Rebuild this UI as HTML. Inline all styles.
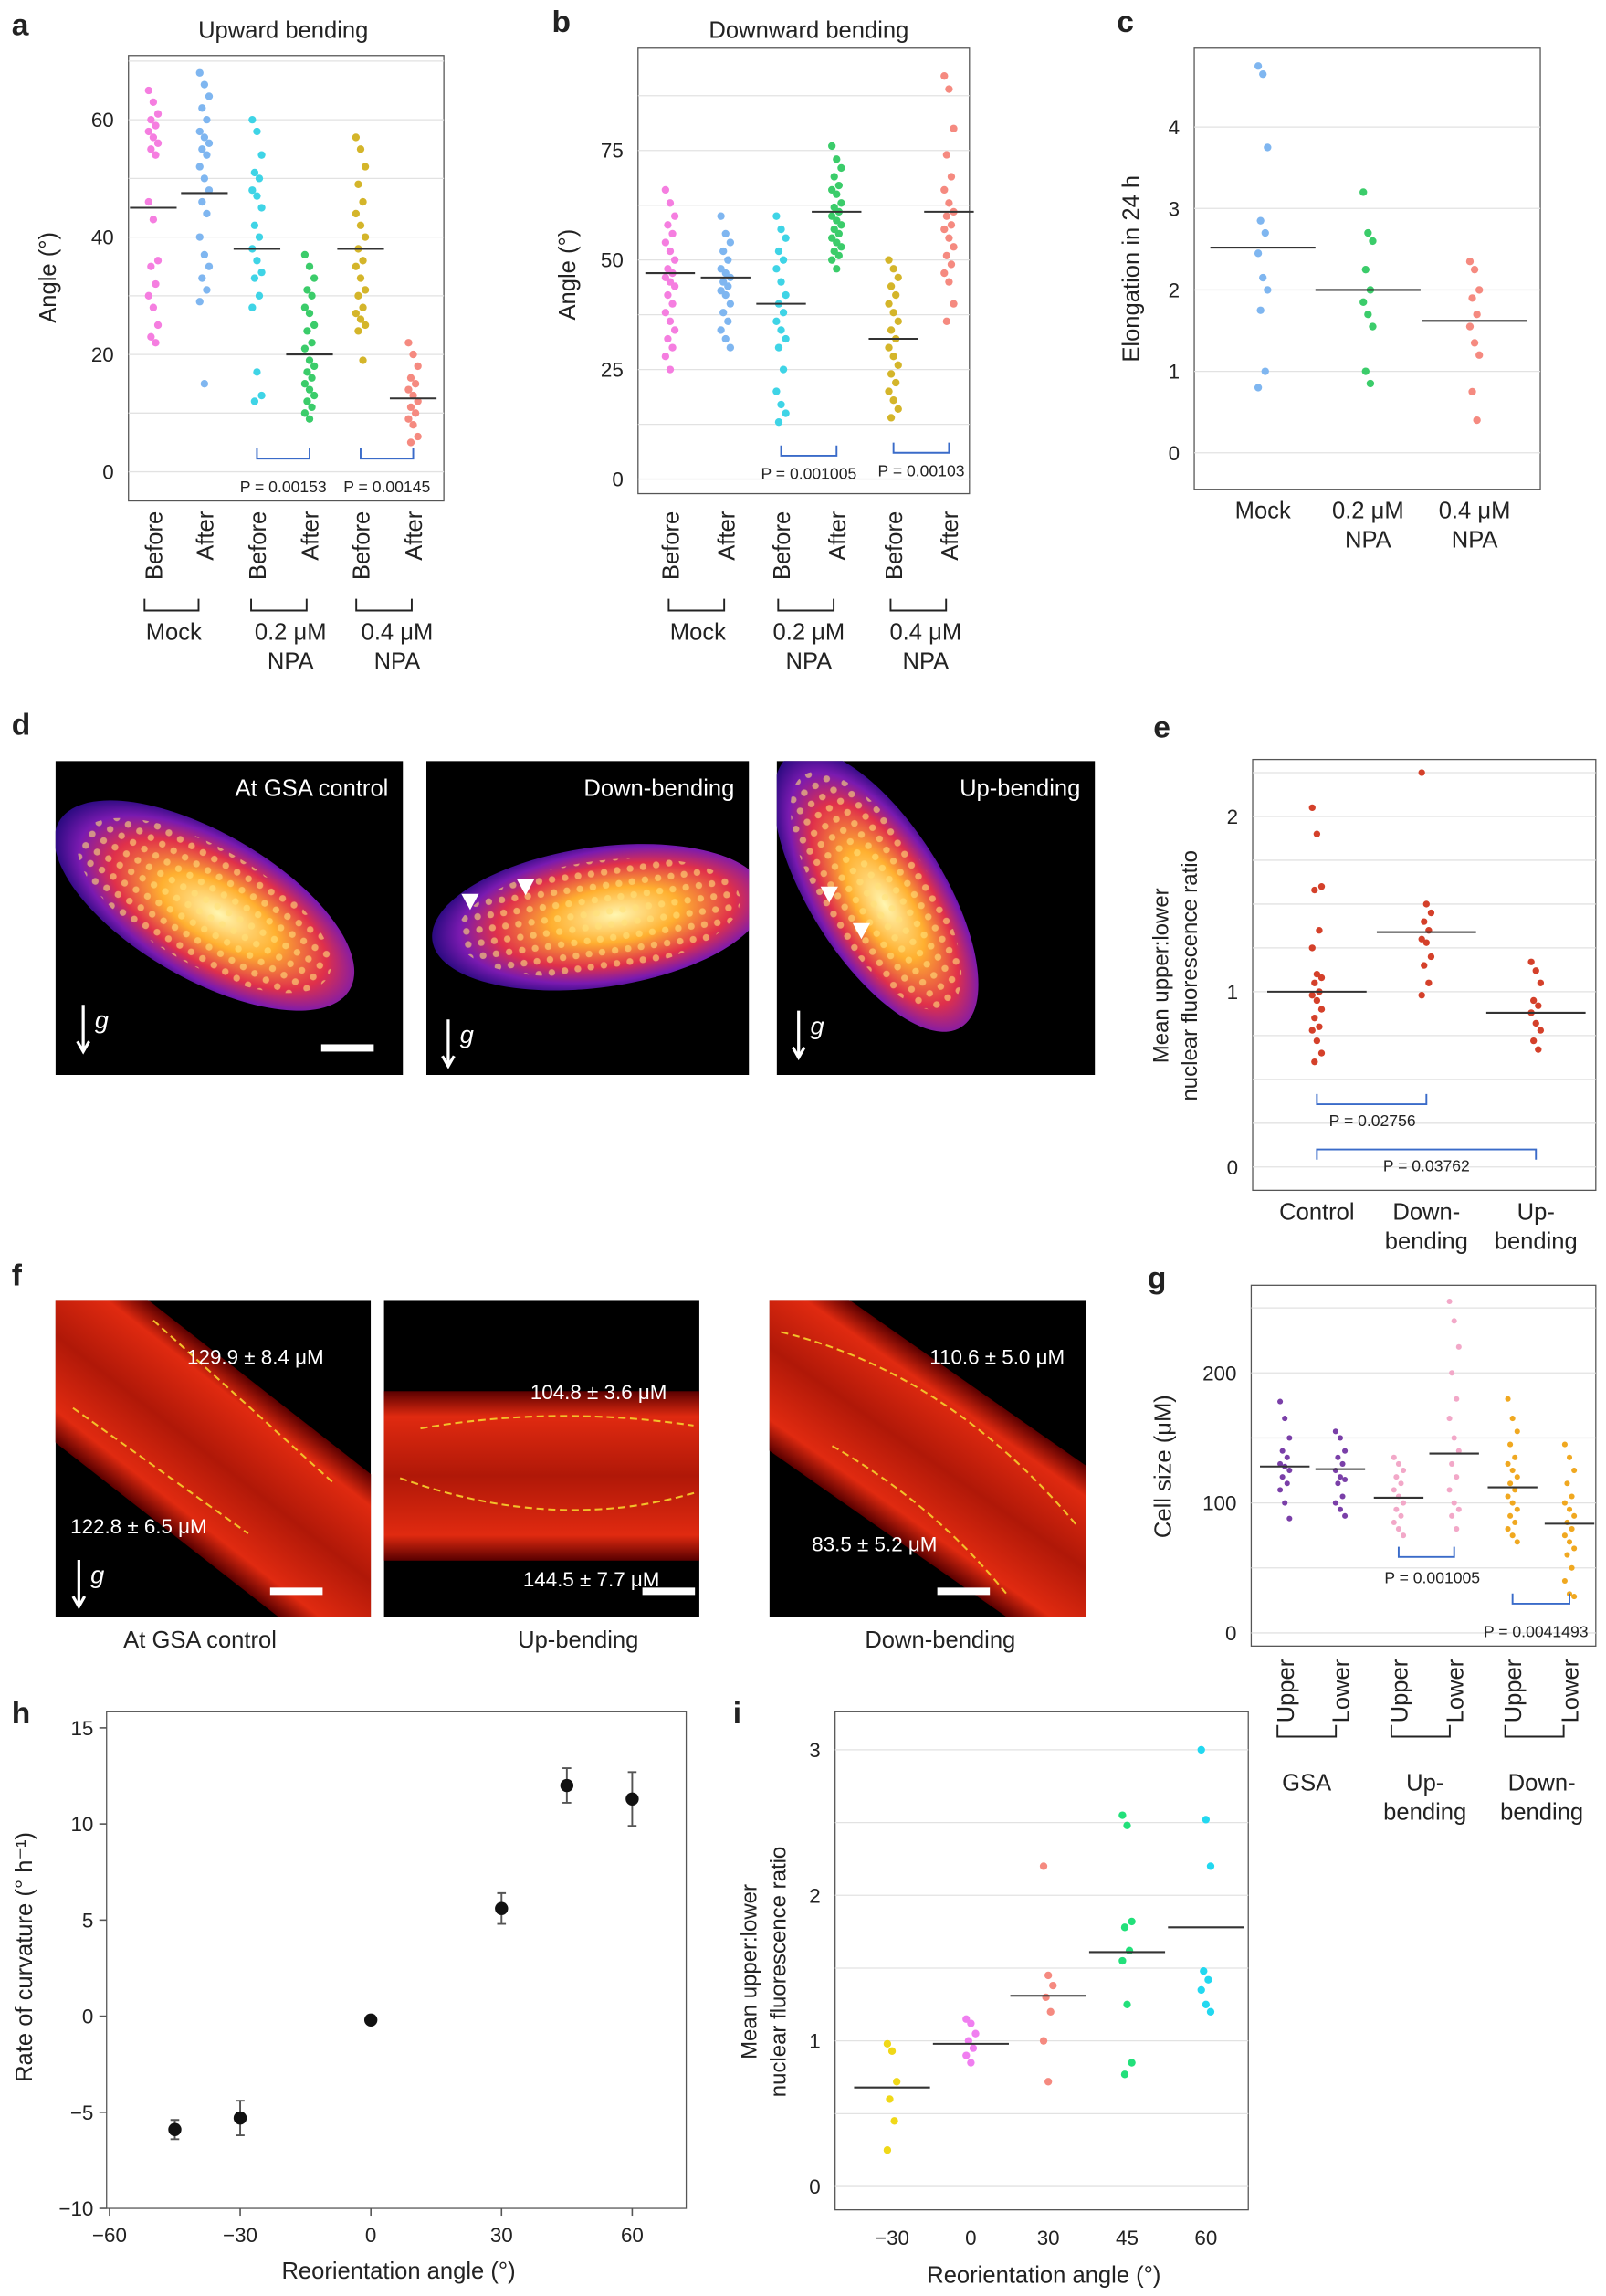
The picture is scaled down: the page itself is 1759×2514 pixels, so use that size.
<!DOCTYPE html>
<html><head><meta charset="utf-8"><style>
html,body{margin:0;padding:0;background:#fff}
svg{display:block}
text{font-family:"Liberation Sans",sans-serif;fill:#222}
</style></head><body>
<svg id="fig" width="1759" height="2514" viewBox="0 0 1100 1572" preserveAspectRatio="none" xmlns="http://www.w3.org/2000/svg">
<defs>
<radialGradient id="heat" cx="55%" cy="50%" r="55%">
<stop offset="0" stop-color="#fff6b0"/><stop offset="0.35" stop-color="#ffb030"/><stop offset="0.65" stop-color="#e0304a"/><stop offset="0.85" stop-color="#7a1ab0"/><stop offset="1" stop-color="#2a0a80"/>
</radialGradient>
<pattern id="nuc" width="9" height="9" patternUnits="userSpaceOnUse"><circle cx="4" cy="4" r="2.3" fill="#ffe27a" opacity="0.85"/></pattern>
<linearGradient id="redband" x1="0" y1="0" x2="0" y2="1">
<stop offset="0" stop-color="#5a0000"/><stop offset="0.15" stop-color="#e02a10"/><stop offset="0.5" stop-color="#b01808"/><stop offset="0.85" stop-color="#e02a10"/><stop offset="1" stop-color="#5a0000"/>
</linearGradient>
</defs>
</svg>
<script>
// ---------- data ----------
const aCats=["Before Mock","After Mock","Before 0.2","After 0.2","Before 0.4","After 0.4"];
const aMock0=[65,63,61,60,59,58,57,56,55,54,46,43,36,35,32,30,28,25,23,22];
const aMock1=[68,66,64,62,60,58,57,56,55,54,52,50,48,46,44,40,37,35,33,31,29,15];
const aN20=[60,58,54,51,50,48,47,45,42,40,38,36,34,33,30,28,17,13,12];
const aN21=[37,35,33,31,30,28,27,25,24,22,21,19,18,17,16,15,14,13,12,11,10,9];
const aN40=[57,55,52,49,46,44,42,40,38,36,35,33,31,30,28,27,26,25,24,19];
const aN41=[22,20,18,16,15,14,13,12,11,10,9,8,6,5];
const aMeans=[45,47.5,38,20,38,12.5];
const aTicks=[0,20,40,60];
const bMock0=[66,63,60,58,56,54,52,50,48,47,46,45,44,42,40,38,36,34,32,30,28,25];
const bMock1=[60,56,54,52,50,48,47,46,45,44,43,42,40,38,36,34,32,30];
const bN20=[60,57,55,52,50,48,45,42,40,38,36,34,32,30,25,20,17,15,13];
const bN21=[76,73,71,69,67,66,65,63,62,61,60,59,58,57,56,55,54,53,52,51,50,48];
const bN40=[50,48,46,44,42,40,38,36,34,32,30,28,26,24,22,20,18,16,14];
const bN41=[92,89,80,74,69,66,63,61,60,58,57,55,53,51,49,47,45,40,36];
const bMeans=[47,46,40,61,32,61];
const bTicks=[0,25,50,75];
const cCats=["Mock","0.2 μM|NPA","0.4 μM|NPA"];
const cMock=[4.75,4.65,3.75,2.85,2.7,2.45,2.15,2.0,1.75,1.0,0.8];
const cN2=[3.2,2.7,2.6,2.25,2.0,1.85,1.7,1.55,1.0,0.85];
const cN4=[2.35,2.25,2.0,1.9,1.7,1.55,1.35,1.2,0.75,0.4];
const cMeans=[2.52,2.0,1.62];
const cTicks=[0,1,2,3,4];
const eCats=["Control","Down-|bending","Up-|bending"];
const eCtrl=[2.05,1.9,1.6,1.58,1.35,1.25,1.1,1.08,1.05,1.0,0.98,0.95,0.9,0.85,0.8,0.78,0.72,0.65,0.6];
const eDown=[2.25,1.5,1.45,1.4,1.35,1.3,1.28,1.2,1.15,1.05,0.98];
const eUp=[1.17,1.12,1.05,0.95,0.92,0.88,0.82,0.78,0.72,0.67];
const eMeans=[1.0,1.34,0.88];
const eTicks=[0,1,2];
const gGsaU=[178,165,150,140,135,130,128,125,120,115,110,100,88];
const gGsaL=[155,150,140,135,130,125,120,118,115,105,100,95,90];
const gUpU=[135,130,125,120,115,110,105,100,95,90,85,80,75];
const gUpL=[255,240,220,200,180,165,150,140,130,120,110,100,95,90,80];
const gDnU=[180,165,155,145,135,130,125,120,115,110,105,100,95,90,85,80,75,70];
const gDnL=[145,135,125,115,105,100,95,90,85,80,75,70,65,60,50,40,30,28];
const gMeans=[128,126,104,138,112,84];
const gTicks=[0,100,200];
const hX=[-45,-30,0,30,45,60];
const hY=[-5.9,-5.3,-0.2,5.6,12.0,11.3];
const hErr=[0.5,0.9,0.15,0.8,0.9,1.4];
const hXTicks=[-60,-30,0,30,60];
const hYTicks=[-10,-5,0,5,10,15];
const iCats=["-30","0","30","45","60"];
const iM30=[0.98,0.93,0.72,0.6,0.45,0.25];
const i0=[1.15,1.12,1.05,1.0,0.95,0.9,0.85];
const i30=[2.2,1.45,1.38,1.3,1.2,1.0,0.72];
const i45=[2.55,2.48,1.82,1.78,1.62,1.55,1.25,0.85,0.77];
const i60=[3.0,2.52,2.2,1.48,1.42,1.35,1.25,1.2];
const iMeans=[0.68,0.98,1.31,1.61,1.78];
const iTicks=[0,1,2,3];

// ---------- helpers ----------
const NS="http://www.w3.org/2000/svg";
const svg=document.getElementById('fig');
const defs=svg.querySelector('defs');
function mk(tag,attrs,parent){const e=document.createElementNS(NS,tag);for(const k in attrs)e.setAttribute(k,attrs[k]);(parent||svg).appendChild(e);return e;}
function txt(x,y,s,size,anchor,parent,extra){const t=mk('text',Object.assign({x:x,y:y,'font-size':size,'text-anchor':anchor||'middle'},extra||{}),parent);t.textContent=s;return t;}
function lin(d0,d1,r0,r1){return v=>r0+(v-d0)*(r1-r0)/(d1-d0);}

function panel(name,box,yScale,ticks,gridVals,cats,series,colors,means,r,meanW){
  const g=mk('g',{});
  
  
  const bg=mk('rect',{x:box[0],y:box[1],width:box[2]-box[0],height:box[3]-box[1],fill:'#fff',stroke:'#555','stroke-width':0.8},g);
  
  
  gridVals.forEach(v=>{const l=mk('line',{x1:box[0],x2:box[2],y1:yScale(v),y2:yScale(v),stroke:'#e2e2e2','stroke-width':0.8},g);
    
    });
  ticks.forEach(v=>{const t=txt(box[0]-10,yScale(v)+5,String(v),14,'end',g);
    
    });
  series.forEach((arr,si)=>{
    arr.forEach((v,i)=>{const dx=((i*7)%5-2)*1.6;
      const c=mk('circle',{cx:cats[si]+dx,cy:yScale(v),r:r,fill:colors[si]},g);
      
      });
    const m=mk('line',{x1:cats[si]-meanW,x2:cats[si]+meanW,y1:yScale(means[si]),y2:yScale(means[si]),stroke:'#333','stroke-width':1.3},g);
    
    
  });
  return g;
}
function bracket(x1,x2,y,label,lx,ly,up){
  const p=mk('path',{d:up?`M${x1},${y-7}V${y}H${x2}V${y-7}`:`M${x1},${y+7}V${y}H${x2}V${y+7}`,fill:'none',stroke:'#3a6bc9','stroke-width':1.2});
  
  
  const t=txt(lx,ly,label,11,'middle');
  
  
}
function letter(x,y,s){const t=txt(x,y,s,21,'start',null,{'font-weight':'bold'});
  
  }
function vlabel(x,y,s,size){const t=txt(x,y,s,size||16,'end',null,{transform:`rotate(-90 ${x} ${y})`});
  
  }
function ytitle(x,y,lines,size){lines.forEach((s,i)=>{const t=txt(x+i*20,y,s,size||16,'middle',null,{transform:`rotate(-90 ${x+i*20} ${y})`});
  
  });}
function label(x,y,s,size,name){const t=txt(x,y,s,size||16,'middle');
  
  return t;}
function groupBracket(x1,x2,y){const p=mk('path',{d:`M${x1},${y-8}V${y}H${x2}V${y-8}`,fill:'none',stroke:'#222','stroke-width':1.2});
  
  }
function clipRect(id,x,y,w,h){const cp=mk('clipPath',{id:id},defs);mk('rect',{x:x,y:y,width:w,height:h},cp);return `url(#${id})`;}

const six=['#f57ee0','#7fb6f0','#3fd4e6','#3bcc6a','#d4b52a','#f58a80'];
// ---------- panel a ----------
letter(8,24,'a');
label(194,26,'Upward bending',16,'panel-title');
const ay=lin(0,60,323,82);
const aX=[105,140,176,212,247,283];
panel('panel-a-dot-plot',[88,38,304,343],ay,aTicks,[0,10,20,30,40,50,60,70],aX,[aMock0,aMock1,aN20,aN21,aN40,aN41],six,aMeans,2.6,16);
ytitle(38,190,['Angle (°)']);
bracket(176,212,314,'P = 0.00153',194,337,true);
bracket(247,283,314,'P = 0.00145',265,337,true);
aCats.forEach((c,i)=>vlabel(aX[i]+6,350,c.split(' ')[0]));
groupBracket(99,136,418);groupBracket(172,210,418);groupBracket(244,282,418);
label(119,438,'Mock');label(199,438,'0.2 μM');label(199,458,'NPA');label(272,438,'0.4 μM');label(272,458,'NPA');

// ---------- panel b ----------
letter(378,22,'b');
label(554,26,'Downward bending',16,'panel-title');
const by=lin(0,75,328,103);
const bX=[459,497,535,573,612,650];
panel('panel-b-dot-plot',[437,33,664,338],by,bTicks,[0,12.5,25,37.5,50,62.5,75,87.5],bX,[bMock0,bMock1,bN20,bN21,bN40,bN41],six,bMeans,2.6,17);
ytitle(394,188,['Angle (°)']);
bracket(535,573,312,'P = 0.001005',554,328,true);
bracket(612,650,310,'P = 0.00103',631,326,true);
aCats.forEach((c,i)=>vlabel(bX[i]+6,350,c.split(' ')[0]));
groupBracket(458,496,418);groupBracket(533,571,418);groupBracket(610,648,418);
label(478,438,'Mock');label(554,438,'0.2 μM');label(554,458,'NPA');label(634,438,'0.4 μM');label(634,458,'NPA');

// ---------- panel c ----------
letter(765,22,'c');
const cy=lin(0,4,310,87);
const cX=[865,937,1010];
panel('panel-c-dot-plot',[818,33,1055,335],cy,cTicks,[0,1,2,3,4],cX,[cMock,cN2,cN4],['#7fb6f0','#3bcc6a','#f58a80'],cMeans,2.6,36);
ytitle(780,184,['Elongation in 24 h']);
cCats.forEach((c,i)=>c.split('|').forEach((s,j)=>label(cX[i],355+j*20,s,16,'x-tick-label')));

// ---------- panel d (microscopy) ----------
letter(8,503,'d');
function heatImg(x,y,w,h,cx,cy,rx,ry,rot,title,name){
  const g=mk('g',{'clip-path':clipRect('c'+name,x,y,w,h)});
  
  
  mk('rect',{x:x,y:y,width:w,height:h,fill:'#000'},g);
  mk('ellipse',{cx:cx,cy:cy,rx:rx,ry:ry,fill:'url(#heat)',transform:`rotate(${rot} ${cx} ${cy})`},g);
  mk('ellipse',{cx:cx,cy:cy,rx:rx*0.85,ry:ry*0.8,fill:'url(#nuc)',opacity:0.7,transform:`rotate(${rot} ${cx} ${cy})`},g);
  const t=txt(x+w-10,y+24,title,16,'end',g);t.style.fill='#fff';
}
heatImg(38,521,238,215,140,620,115,50,30,'At GSA control','image-gsa-control');
heatImg(292,521,221,215,410,628,115,48,-8,'Down-bending','image-down-bending');
heatImg(532,521,218,215,600,610,110,46,58,'Up-bending','image-up-bending');
function gArrow(x,y,h){const a=mk('path',{d:`M${x},${y}V${y+h}M${x-4},${y+h-7}L${x},${y+h}L${x+4},${y+h-7}`,stroke:'#fff','stroke-width':2,fill:'none'});
  
  
  const t=txt(x+8,y+16,'g',17,'start',null,{'font-style':'italic'});t.style.fill='#fff';
  
  }
gArrow(57,688,32);gArrow(307,698,32);gArrow(547,692,32);
mk('rect',{x:220,y:715,width:36,height:5,fill:'#fff'});
[[322,620],[360,610],[568,615],[590,640]].forEach(p=>{const a=mk('path',{d:`M${p[0]-6},${p[1]-8}L${p[0]+6},${p[1]-8}L${p[0]},${p[1]+3}Z`,fill:'#fff'});
  
  });

// ---------- panel e ----------
letter(790,505,'e');
const ey=lin(0,2,799,559);
const eX=[902,977,1052];
panel('panel-e-dot-plot',[858,520,1093,815],ey,eTicks,[0,0.5,1,1.5,2,0.25,0.75,1.25,1.75,2.25],eX,[eCtrl,eDown,eUp],['#d4402a','#d4402a','#d4402a'],eMeans,2.3,34);
ytitle(800,668,['Mean upper:lower','nuclear  fluorescence ratio'],15);
bracket(902,977,756,'P = 0.02756',940,771,true);
bracket(902,1052,787,'P = 0.03762',977,802,false);
eCats.forEach((c,i)=>c.split('|').forEach((s,j)=>label(eX[i],835+j*20,s,16,'x-tick-label')));

// ---------- panel f ----------
letter(8,880,'f');
function redImg(x,y,w,h,rot,dy,name){
  const g=mk('g',{'clip-path':clipRect('c'+name,x,y,w,h)});
  
  
  mk('rect',{x:x,y:y,width:w,height:h,fill:'#000'},g);
  const cx=x+w/2,cy=y+h/2+dy;
  mk('rect',{x:x-150,y:cy-58,width:w+300,height:116,fill:'url(#redband)',transform:`rotate(${rot} ${cx} ${cy})`},g);
  return g;
}
redImg(38,890,216,217,38,0,'image-f-gsa');
redImg(263,890,216,217,0,12,'image-f-up');
redImg(527,890,217,217,35,0,'image-f-down');
function dash(d){const p=mk('path',{d:d,fill:'none',stroke:'#f2c02a','stroke-width':1.3,'stroke-dasharray':'5 3'});
  
  }
dash('M105,904L228,1015');dash('M50,964L170,1050');
dash('M288,978Q380,962 475,976');dash('M274,1012Q380,1050 476,1022');
dash('M535,912Q650,940 738,1045');dash('M570,990Q640,1030 690,1092');
function wt(x,y,s,name){const t=txt(x,y,s,14,'middle');t.style.fill='#fff';
  
  }
wt(175,934,'129.9 ± 8.4 μM','measurement-upper');wt(95,1050,'122.8 ± 6.5 μM','measurement-lower');
wt(410,958,'104.8 ± 3.6 μM','measurement-upper');wt(405,1086,'144.5 ± 7.7 μM','measurement-lower');
wt(683,934,'110.6 ± 5.0 μM','measurement-upper');wt(599,1062,'83.5 ± 5.2 μM','measurement-lower');
gArrow(54,1068,32);
mk('rect',{x:185,y:1087,width:36,height:5,fill:'#fff'});mk('rect',{x:440,y:1087,width:36,height:5,fill:'#fff'});mk('rect',{x:642,y:1087,width:36,height:5,fill:'#fff'});
label(137,1128,'At GSA control',16,'image-caption');label(396,1128,'Up-bending',16,'image-caption');label(644,1128,'Down-bending',16,'image-caption');

// ---------- panel g ----------
letter(786,882,'g');
const gy=lin(0,200,1118,940);
const gX=[880,918,958,996,1036,1075];
panel('panel-g-dot-plot',[857,880,1093,1127],gy,gTicks,[0,50,100,150,200,250],gX,[gGsaU,gGsaL,gUpU,gUpL,gDnU,gDnL],['#7a3fa8','#7a3fa8','#f2a8c8','#f2a8c8','#f0a820','#f0a820'],gMeans,1.9,17);
ytitle(802,1004,['Cell size (μM)']);
bracket(958,996,1066,'P = 0.001005',981,1084,true);
bracket(1036,1075,1098,'P = 0.0041493',1052,1121,true);
['Upper','Lower','Upper','Lower','Upper','Lower'].forEach((s,i)=>vlabel(gX[i]+6,1136,s));
groupBracket(875,915,1189);groupBracket(953,993,1189);groupBracket(1031,1071,1189);
label(895,1226,'GSA');label(976,1226,'Up-');label(976,1246,'bending');label(1056,1226,'Down-');label(1056,1246,'bending');

// ---------- panel h ----------
letter(8,1180,'h');
const hx=lin(-60,60,75,433), hy=lin(-10,15,1512,1183);
const hb=mk('rect',{x:73,y:1172,width:397,height:340,fill:'#fff',stroke:'#555','stroke-width':0.8});


hXTicks.forEach(v=>{const t=label(hx(v),1535,v<0?'−'+Math.abs(v):String(v),14,'x-tick-label');
  mk('line',{x1:hx(v),x2:hx(v),y1:1512,y2:1517,stroke:'#555'});});
hYTicks.forEach(v=>{const t=txt(64,hy(v)+5,v<0?'−'+Math.abs(v):String(v),14,'end');
  
  
  mk('line',{x1:68,x2:73,y1:hy(v),y2:hy(v),stroke:'#555'});});
hX.forEach((xv,i)=>{
  const e=mk('path',{d:`M${hx(xv)},${hy(hY[i]-hErr[i])}V${hy(hY[i]+hErr[i])}M${hx(xv)-3},${hy(hY[i]-hErr[i])}h6M${hx(xv)-3},${hy(hY[i]+hErr[i])}h6`,stroke:'#555','stroke-width':1.2,fill:'none'});
  
  
  const c=mk('circle',{cx:hx(xv),cy:hy(hY[i]),r:4.5,fill:'#111'});
  
  });
label(273,1560,'Reorientation angle (°)',16,'x-axis-title');
ytitle(22,1340,['Rate of curvature (° h⁻¹)']);

// ---------- panel i ----------
letter(502,1180,'i');
const iy=lin(0,3,1497,1198);
const iX=[611,665,718,772,826];
panel('panel-i-dot-plot',[572,1172,855,1513],iy,iTicks,[0,0.5,1,1.5,2,2.5,3],iX,[iM30,i0,i30,i45,i60],['#f0d818','#f07ef0','#f58a80','#22e07a','#22d8f0'],iMeans,2.6,26);
iCats.forEach((c,i)=>label(iX[i],1537,c==='-30'?'−30':c,14,'x-tick-label'));
label(715,1563,'Reorientation angle (°)',16,'x-axis-title');
ytitle(518,1350,['Mean upper:lower','nuclear fluorescence ratio'],15);
</script>
</body></html>
